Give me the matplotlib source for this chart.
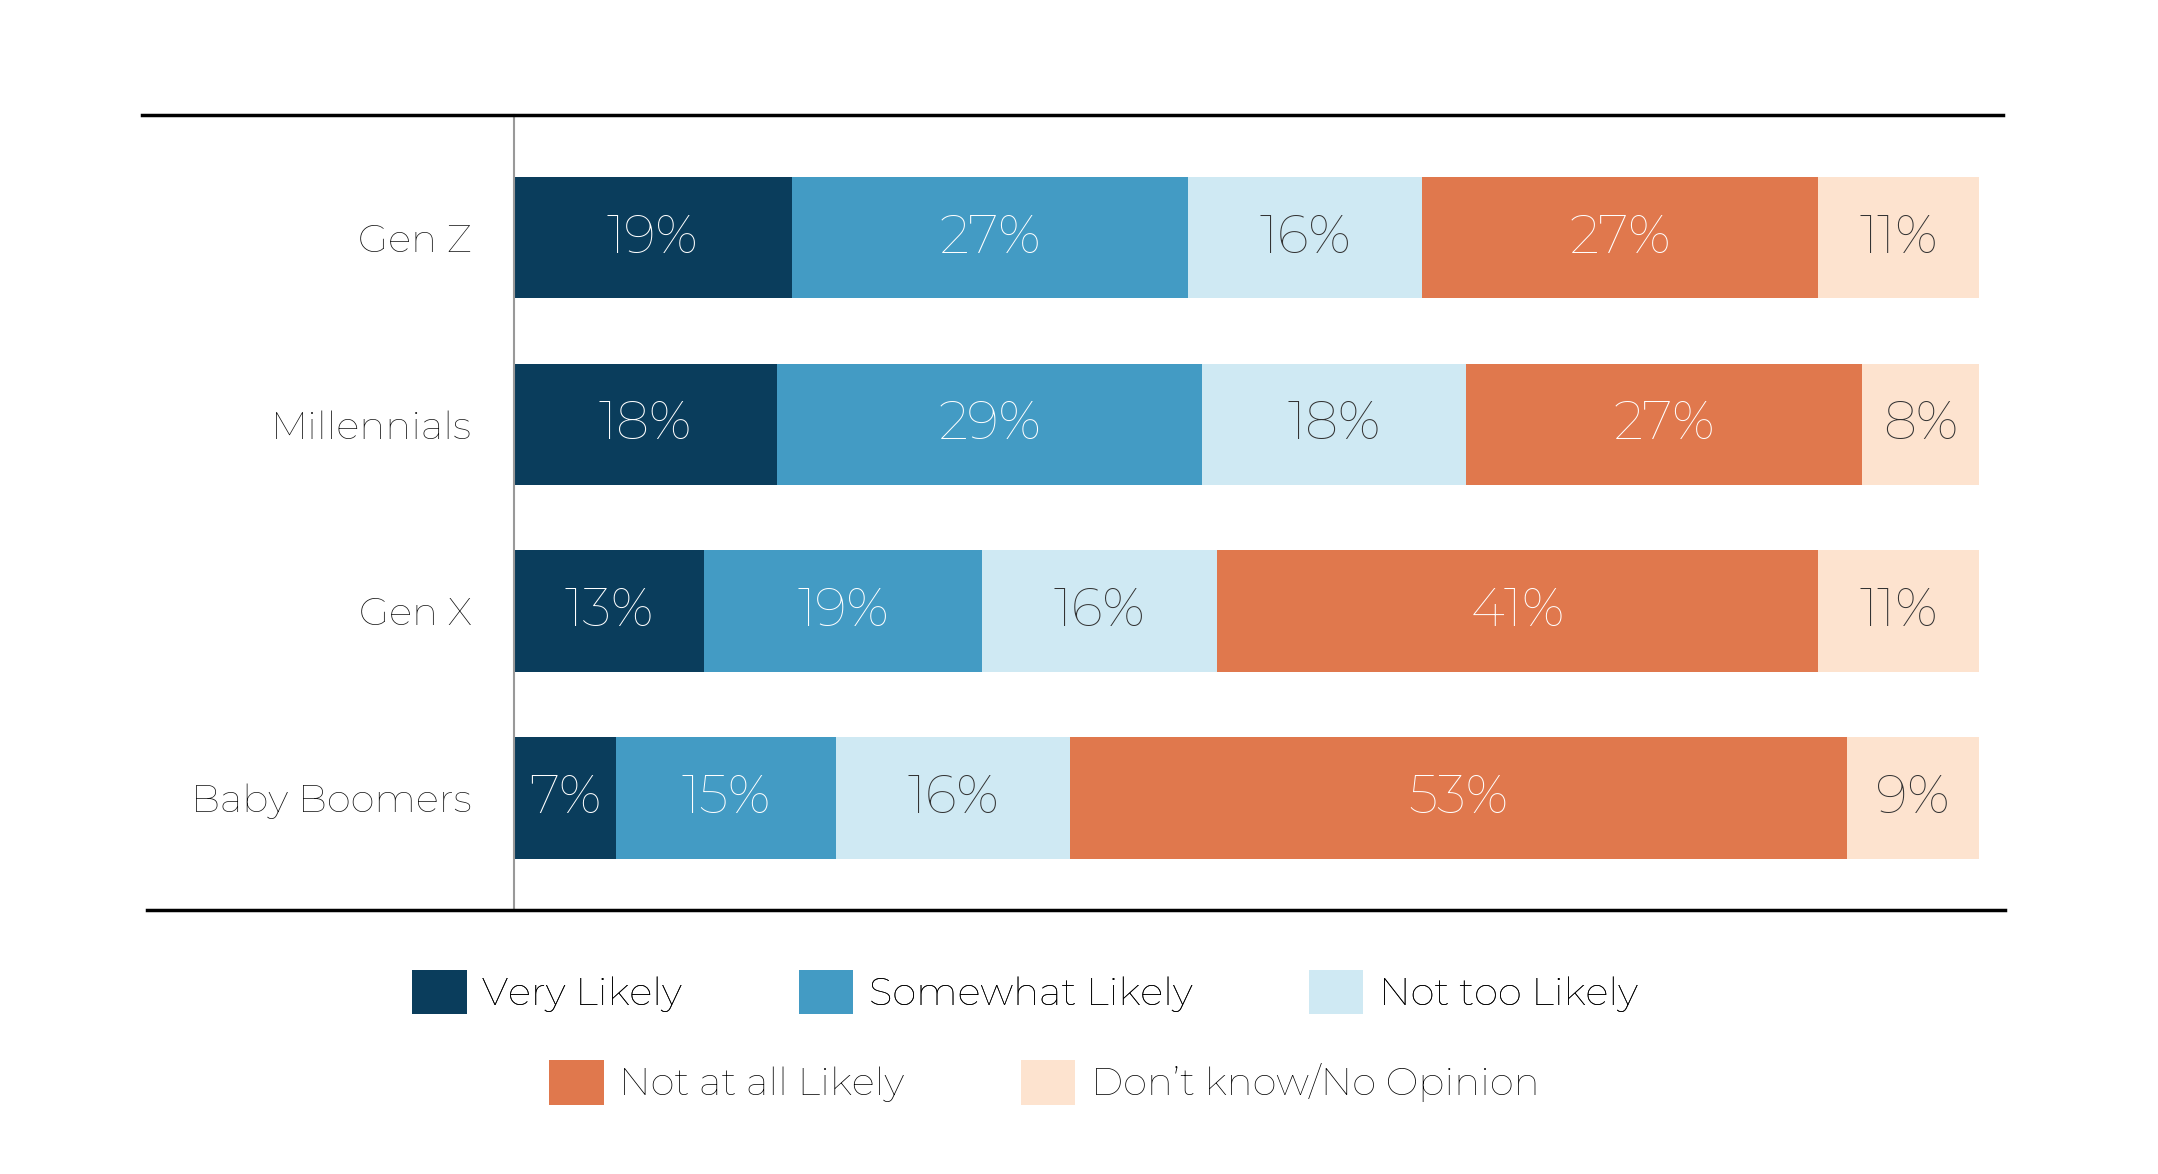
import matplotlib
matplotlib.use("Agg")
import matplotlib.pyplot as plt
from matplotlib.lines import Line2D
from matplotlib.patches import Patch

categories = ["Gen Z", "Millennials", "Gen X", "Baby Boomers"]
series = ["Very Likely", "Somewhat Likely", "Not too Likely", "Not at all Likely", "Don\u2019t know/No Opinion"]
values = {
    "Very Likely": [19, 18, 13, 7],
    "Somewhat Likely": [27, 29, 19, 15],
    "Not too Likely": [16, 18, 16, 16],
    "Not at all Likely": [27, 27, 41, 53],
    "Don\u2019t know/No Opinion": [11, 8, 11, 9],
}
colors = ["#0A3D5C", "#439BC4", "#CFE9F3", "#E0784D", "#FDE3CF"]
text_colors = ["white", "white", "#333333", "white", "#333333"]

plt.rcParams['font.family'] = ['Montserrat', 'Inter', 'DejaVu Sans']
fig = plt.figure(figsize=(21.58, 11.74), dpi=100)
ax = fig.add_axes([0.238, 0.225, 0.679, 0.677])

ys = list(range(len(categories)))
left = [0] * len(categories)
for s, c, tc in zip(series, colors, text_colors):
    v = values[s]
    ax.barh(ys, v, left=left, height=0.65, color=c)
    for y, l, val in zip(ys, left, v):
        ax.text(l + val / 2, y, f"{val}%", ha='center', va='center', fontsize=38, color=tc)
    left = [a + b for a, b in zip(left, v)]

ax.set_xlim(0, 100)
ax.set_ylim(3.60, -0.657)
ax.set_yticks(ys)
ax.set_yticklabels(categories, fontsize=28, color="#111111")
ax.tick_params(axis='y', length=0, pad=30)
ax.set_xticks([])
for sp in ['top', 'right', 'bottom']:
    ax.spines[sp].set_visible(False)
ax.spines['left'].set_color('#999999')
ax.spines['left'].set_linewidth(1.5)

fig.add_artist(Line2D([0.066, 0.928], [0.902, 0.902], color='black', lw=2.5))
fig.add_artist(Line2D([0.068, 0.929], [0.225, 0.225], color='black', lw=2.5))

h = [Patch(facecolor=c) for c in colors]
kw = dict(frameon=False, fontsize=28, handlelength=1.4, handleheight=1.4, columnspacing=3.0, handletextpad=0.4, loc='center')
l1 = fig.legend(h[:3], series[:3], ncol=3, bbox_to_anchor=(0.475, 0.155), **kw)
fig.add_artist(l1)
fig.legend(h[3:], series[3:], ncol=2, bbox_to_anchor=(0.484, 0.078), **kw)

fig.savefig("out.png", dpi=100, facecolor='white')
